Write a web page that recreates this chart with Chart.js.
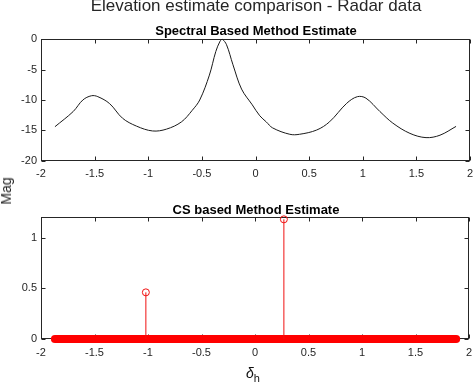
<!DOCTYPE html>
<html>
<head>
<meta charset="utf-8">
<script src="https://cdn.jsdelivr.net/npm/chart.js@4.4.1/dist/chart.umd.min.js"></script>
<style>
  html, body { margin: 0; padding: 0; background: #fff; }
  body { width: 474px; height: 387px; position: relative; overflow: hidden; font-family: "Liberation Sans", Arial, sans-serif; }
  .box { position: absolute; left: 0; width: 474px; }
  #top { top: 0; height: 200px; }
  #bottom { top: 190px; height: 197px; }
  .txt { position: absolute; color: #262626; white-space: nowrap; }
  .ttl { left: 0; width: 512px; text-align: center; font-size: 13px; line-height: 13px; font-weight: bold; color: #000; }
  #mainTitle { left: 0; width: 512px; text-align: center; top: -3px; font-size: 17px; line-height: 17px; }
  #t1 { top: 24px; }
  #t2 { top: 203px; }
  #ylab { left: 6px; top: 191px; font-size: 14px; transform: translate(-50%, -50%) rotate(-90deg); }
  #xlab { left: 253px; top: 365px; font-size: 14px; transform: translateX(-50%); color: #111; }
  #xlab sub { font-size: 11px; }
</style>
</head>
<body>
<div class="box" id="top"><canvas id="specChart"></canvas></div>
<div class="box" id="bottom"><canvas id="csChart"></canvas></div>
<div class="txt" id="mainTitle">Elevation estimate comparison - Radar data</div>
<div class="txt ttl" id="t1">Spectral Based Method Estimate</div>
<div class="txt ttl" id="t2">CS based Method Estimate</div>
<div class="txt" id="ylab">Mag</div>
<div class="txt" id="xlab"><i>δ</i><sub>h</sub></div>
<script>
// x ticks shared by both subplots
const xTicks = [-2, -1.5, -1, -0.5, 0, 0.5, 1, 1.5, 2];

// Spectral based estimate (dB)
const specX = [-1.87, -1.70, -1.61, -1.53, -1.47, -1.36, -1.24, -1.11, -0.96, -0.83, -0.69, -0.59, -0.52,
  -0.43, -0.37, -0.33, -0.31, -0.27, -0.21, -0.13, -0.03, 0.04, 0.10, 0.16, 0.32, 0.41, 0.57, 0.69,
  0.85, 0.95, 1.03, 1.16, 1.28, 1.44, 1.59, 1.72, 1.87];
const specY = [-14.4, -11.9, -10.0, -9.3, -9.45, -10.6, -13.0, -14.3, -15.1, -14.8, -13.6, -11.7, -10.0,
  -5.9, -2.0, -0.3, 0, -0.9, -4.2, -8.2, -10.8, -12.6, -13.6, -14.6, -15.65, -15.65, -14.95, -13.6,
  -10.55, -9.45, -9.7, -11.9, -13.8, -15.5, -16.2, -15.8, -14.35];
const specYTicks = [-20, -15, -10, -5, 0];

// CS based estimate: nonzero stems and the zero grid extent
const stemX = [-1.02, 0.27];
const stemY = [0.46, 1.18];
const csBandX = [-1.87, 1.88];
const csYTicks = [0, 0.5, 1];

const axisColor = '#262626';
const tickFont = { family: '"Liberation Sans", Arial, sans-serif', size: 11 };

// MATLAB style box with inward ticks
const matlabAxes = {
  id: 'matlabAxes',
  beforeDatasetsDraw(chart) {
    const { ctx, chartArea: a, scales: { x, y } } = chart;
    const L = Math.round(a.left) + 0.5, R = Math.round(a.right) - 0.5;
    const T = Math.round(a.top) + 0.5, B = Math.round(a.bottom) - 0.5;
    ctx.save();
    ctx.strokeStyle = axisColor;
    ctx.lineWidth = 1;
    ctx.strokeRect(L, T, R - L, B - T);
    ctx.beginPath();
    x.ticks.forEach(t => {
      const px = Math.round(x.getPixelForValue(t.value)) + 0.5;
      ctx.moveTo(px, B); ctx.lineTo(px, B - 4);
      ctx.moveTo(px, T); ctx.lineTo(px, T + 4);
    });
    y.ticks.forEach(t => {
      const py = Math.round(y.getPixelForValue(t.value)) + 0.5;
      ctx.moveTo(L, py); ctx.lineTo(L + 4, py);
      ctx.moveTo(R, py); ctx.lineTo(R - 4, py);
    });
    ctx.stroke();
    ctx.restore();
  }
};

function axes(yMin, yMax, yTicks, bottomHeight) {
  return {
    x: {
      type: 'linear', min: -2, max: 2,
      grid: { display: false, drawTicks: false }, border: { display: false },
      afterBuildTicks: s => { s.ticks = xTicks.map(v => ({ value: v })); },
      afterFit: s => { s.height = bottomHeight; s.paddingLeft = 0; s.paddingRight = 0; },
      ticks: { color: axisColor, font: tickFont, padding: 7, maxRotation: 0, autoSkip: false, callback: v => String(v) }
    },
    y: {
      min: yMin, max: yMax,
      grid: { display: false, drawTicks: false }, border: { display: false },
      afterBuildTicks: s => { s.ticks = yTicks.map(v => ({ value: v })); },
      afterFit: s => { s.width = 41; s.paddingTop = 0; s.paddingBottom = 0; },
      ticks: { color: axisColor, font: tickFont, padding: 4, callback: v => String(v) }
    }
  };
}

new Chart(document.getElementById('specChart'), {
  type: 'line',
  data: {
    datasets: [{
      data: specX.map((x, i) => ({ x, y: specY[i] })),
      borderColor: '#1a1a1a', borderWidth: 1, pointRadius: 0,
      tension: 0.35, clip: false
    }]
  },
  options: {
    responsive: true, maintainAspectRatio: false, animation: false,
    layout: { padding: { left: 0, right: 4, top: 39.3, bottom: 0 } },
    plugins: { legend: { display: false }, tooltip: { enabled: false } },
    scales: axes(-20, 0, specYTicks, 39.3)
  },
  plugins: [matlabAxes]
});

const stemSets = stemX.map((x, i) => ({
  data: [{ x, y: 0 }, { x, y: stemY[i] }],
  borderColor: '#f01010', borderWidth: 1,
  pointRadius: [0, 3.5], pointStyle: 'circle',
  pointBackgroundColor: 'rgba(0,0,0,0)', pointBorderColor: '#f01010', pointBorderWidth: 1,
  clip: false
}));

new Chart(document.getElementById('csChart'), {
  type: 'line',
  data: {
    datasets: [...stemSets, {
      data: csBandX.map(x => ({ x, y: 0 })),
      borderColor: '#ff0000', borderWidth: 8, borderCapStyle: 'round',
      pointRadius: 0, clip: false
    }]
  },
  options: {
    responsive: true, maintainAspectRatio: false, animation: false,
    layout: { padding: { left: 0, right: 4, top: 27.3, bottom: 0 } },
    plugins: { legend: { display: false }, tooltip: { enabled: false } },
    scales: axes(0, 1.2, csYTicks, 48)
  },
  plugins: [matlabAxes]
});
</script>
</body>
</html>
